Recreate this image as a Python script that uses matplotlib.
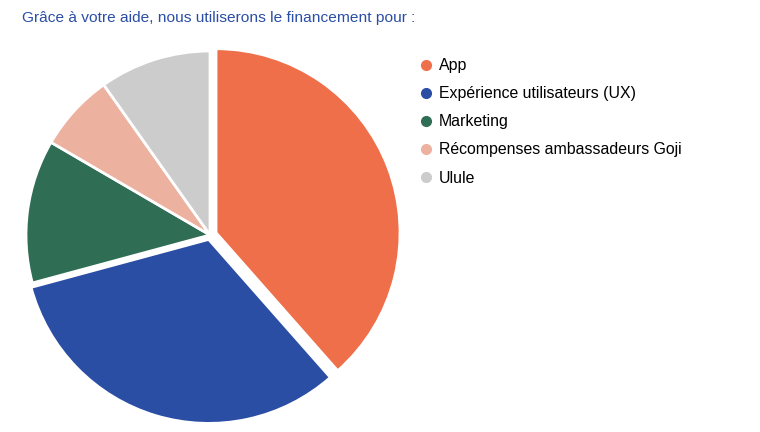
import matplotlib
matplotlib.use("Agg")
import matplotlib.pyplot as plt
from matplotlib.lines import Line2D

plt.rcParams['font.family'] = ['Liberation Sans', 'DejaVu Sans']

# --- Données ---
categories = ["App", "Expérience utilisateurs (UX)", "Marketing",
              "Récompenses ambassadeurs Goji", "Ulule"]
valeurs = [38.5, 32.3, 12.6, 6.8, 9.8]
couleurs = ["#EF6F4A", "#2B4EA5", "#2F6E55", "#EDB1A0", "#CCCCCC"]
ecarts = [0.035, 0.025, 0.0, 0.0, 0.0]
titre = "Grâce à votre aide, nous utiliserons le financement pour :"

fig = plt.figure(figsize=(7.6, 4.32), dpi=100)

# --- Camembert ---
cx, cy, r = 210, 235, 184  # centre et rayon en pixels
ax = fig.add_axes([(cx - 200) / 760, (432 - cy - 200) / 432, 400 / 760, 400 / 432])
ax.pie(valeurs, colors=couleurs, startangle=90, counterclock=False,
       explode=ecarts, radius=1.0,
       wedgeprops=dict(edgecolor="white", linewidth=2))
lim = 200 / r
ax.set_xlim(-lim, lim)
ax.set_ylim(-lim, lim)
ax.set_aspect("equal")
ax.axis("off")

# --- Titre ---
fig.text(22 / 760, 1 - 18 / 432, titre, fontsize=11.15, color="#2B4EA5",
         ha="left", va="center")

# --- Légende ---
poignees = [Line2D([0], [0], marker="o", linestyle="", markersize=7,
                   markerfacecolor=c, markeredgecolor=c) for c in couleurs]
fig.legend(poignees, categories, loc="upper left",
           bbox_to_anchor=(410 / 760, 1 - 52 / 432), frameon=False,
           fontsize=11.45, handletextpad=0.2, handlelength=1.2,
           labelspacing=0.82, borderaxespad=0)

fig.savefig("out.png", dpi=100, facecolor="white")
